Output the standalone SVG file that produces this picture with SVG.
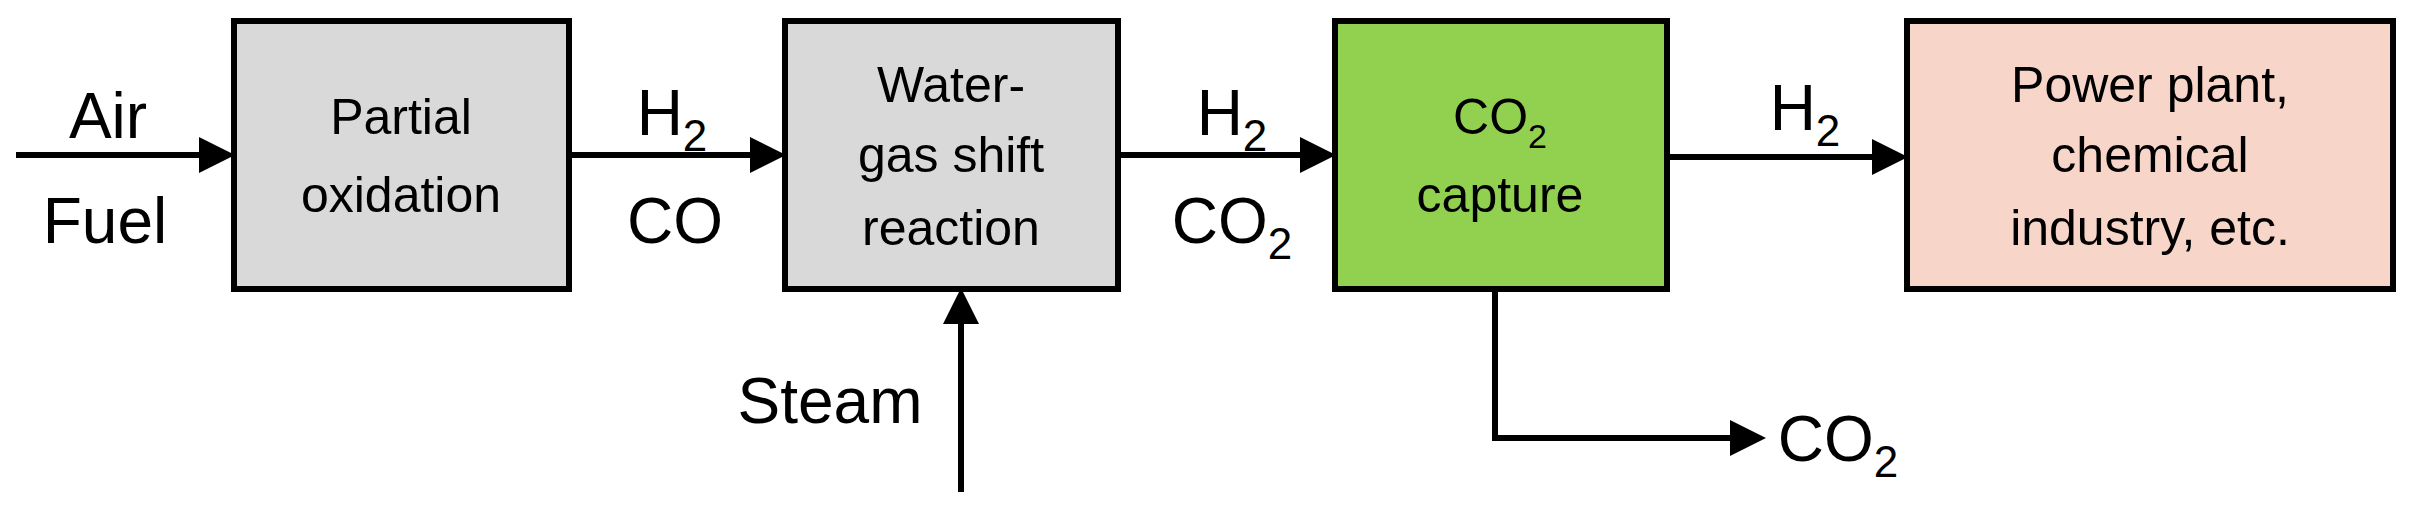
<svg xmlns="http://www.w3.org/2000/svg" width="2411" height="513" viewBox="0 0 2411 513">
<style>
.box{stroke:#000;stroke-width:6}
.t{font-family:"Liberation Sans",Arial,sans-serif;font-size:50px;text-anchor:middle;fill:#000}
.l{font-family:"Liberation Sans",Arial,sans-serif;font-size:64px;text-anchor:middle;fill:#000}
.c{stroke:#000;stroke-width:6;fill:none}
</style>
<defs><marker id="a" markerWidth="6" markerHeight="6" refX="5" refY="3" orient="auto" markerUnits="strokeWidth"><path d="M0,0L6,3L0,6z" fill="#000"/></marker></defs>
<rect width="2411" height="513" fill="#fff"/>
<g id="n1"><rect class="box" x="234" y="21" width="335" height="268" fill="#d9d9d9"/><text class="t" x="401" y="134">Partial</text><text class="t" x="401" y="212">oxidation</text></g>
<g id="n2"><rect class="box" x="785" y="21" width="333" height="268" fill="#d9d9d9"/><text class="t" x="951" y="102">Water-</text><text class="t" x="951" y="172">gas shift</text><text class="t" x="951" y="245">reaction</text></g>
<g id="n3"><rect class="box" x="1335" y="21" width="332" height="268" fill="#92d050"/><text class="t" x="1500" y="134">CO<tspan font-size="34" dy="14">2</tspan></text><text class="t" x="1500" y="212">capture</text></g>
<g id="n4"><rect class="box" x="1907" y="21" width="486" height="268" fill="#f8d5c9"/><text class="t" x="2150" y="102">Power plant,</text><text class="t" x="2150" y="172">chemical</text><text class="t" x="2150" y="245">industry, etc.</text></g>
<g id="connectors">
<line class="c" x1="16" y1="155" x2="229" y2="155" marker-end="url(#a)"/>
<line class="c" x1="569" y1="155" x2="780" y2="155" marker-end="url(#a)"/>
<line class="c" x1="1118" y1="155" x2="1330" y2="155" marker-end="url(#a)"/>
<line class="c" x1="1667" y1="157" x2="1902" y2="157" marker-end="url(#a)"/>
<line class="c" x1="961" y1="492" x2="961" y2="294" marker-end="url(#a)"/>
<polyline class="c" points="1495,289 1495,438 1760,438" marker-end="url(#a)"/>
</g>
<g id="labels">
<text class="l" x="108" y="138">Air</text>
<text class="l" x="105" y="243">Fuel</text>
<text class="l" x="672" y="135">H<tspan font-size="44" dy="16">2</tspan></text>
<text class="l" x="675" y="243">CO</text>
<text class="l" x="1232" y="135">H<tspan font-size="44" dy="16">2</tspan></text>
<text class="l" x="1232" y="243">CO<tspan font-size="44" dy="16">2</tspan></text>
<text class="l" x="1805" y="130">H<tspan font-size="44" dy="16">2</tspan></text>
<text class="l" x="830" y="423">Steam</text>
<text class="l" x="1838" y="461">CO<tspan font-size="44" dy="16">2</tspan></text>
</g>
</svg>
